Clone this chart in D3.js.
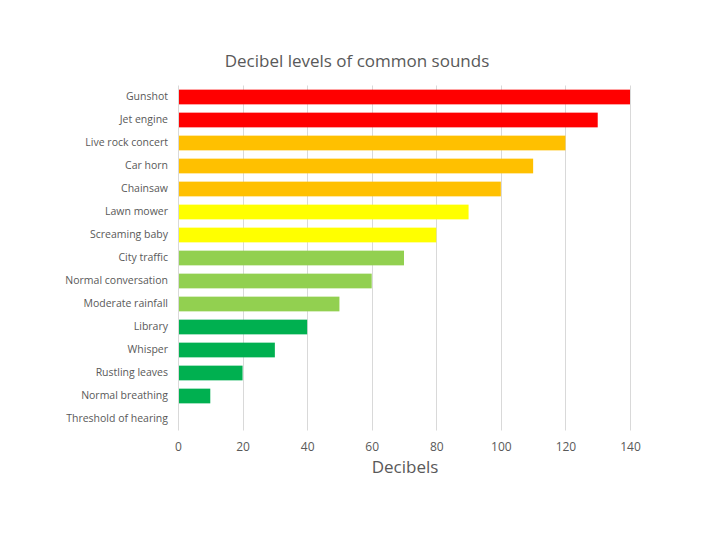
<!DOCTYPE html>
<html lang="en">
<head>
    <meta charset="utf-8">
    <title>Decibel levels</title>
    <script type="text/javascript" src="https://d3js.org/d3.v7.min.js"></script>
    <style>
      body { margin: 0; background: #fff; }
      text { font-family: "Open Sans", "Liberation Sans", sans-serif; fill: #595959; }
    </style>
</head>
<body>
    <div id="viz"></div>

    <script type="text/javascript">
        const sounds = ["Gunshot", "Jet engine", "Live rock concert", "Car horn", "Chainsaw",
                        "Lawn mower", "Screaming baby", "City traffic", "Normal conversation",
                        "Moderate rainfall", "Library", "Whisper", "Rustling leaves",
                        "Normal breathing", "Threshold of hearing"];
        const decibels = [140, 130, 120, 110, 100, 90, 80, 70, 60, 50, 40, 30, 20, 10, 0];
        const barColors = ["#ff0000", "#ff0000", "#ffc000", "#ffc000", "#ffc000",
                           "#ffff00", "#ffff00", "#92d050", "#92d050", "#92d050",
                           "#00b050", "#00b050", "#00b050", "#00b050", "#00b050"];
        const xTicks = [0, 20, 40, 60, 80, 100, 120, 140];

        const width = 720;
        const height = 540;
        const plot = {left: 178, right: 630, top: 85.5, bottom: 430.5};

        const data = sounds.map((s, i) => ({name: s, value: decibels[i], color: barColors[i]}));

        const svg = d3.select("#viz")
                  .append("svg")
                  .attr("width", width)
                  .attr("height", height);

        const xScale = d3.scaleLinear()
            .domain([0, 140])
            .range([plot.left, plot.right]);

        const yScale = d3.scaleBand()
            .domain(sounds)
            .range([plot.top, plot.bottom])
            .paddingInner(0.36)
            .paddingOuter(0.18);

        // gridlines
        svg.append("g")
            .selectAll("line")
            .data(xTicks.slice(1))
            .enter()
            .append("line")
                .attr("x1", d => Math.round(xScale(d)) + 0.5)
                .attr("x2", d => Math.round(xScale(d)) + 0.5)
                .attr("y1", plot.top)
                .attr("y2", plot.bottom)
                .attr("stroke", "#d9d9d9")
                .attr("stroke-width", 1);

        // bars
        svg.append("g")
            .selectAll("rect")
            .data(data)
            .enter()
            .append("rect")
                .attr("x", xScale(0))
                .attr("y", d => yScale(d.name))
                .attr("width", d => xScale(d.value) - xScale(0))
                .attr("height", yScale.bandwidth())
                .attr("fill", d => d.color);

        // y axis line
        svg.append("line")
            .attr("x1", Math.round(xScale(0)) + 0.5)
            .attr("x2", Math.round(xScale(0)) + 0.5)
            .attr("y1", plot.top)
            .attr("y2", plot.bottom)
            .attr("stroke", "#d9d9d9");

        // category labels
        const yAxis = d3.axisLeft(yScale).tickSize(0).tickPadding(10);
        const gy = svg.append("g")
            .attr("transform", `translate(${xScale(0)},0)`)
            .call(yAxis);
        gy.select(".domain").remove();
        gy.selectAll("text")
            .style("font-size", "10.5px")
            .attr("fill", "#404040");

        // x tick labels
        const xAxis = d3.axisBottom(xScale).tickValues(xTicks).tickSize(0).tickPadding(12);
        const gx = svg.append("g")
            .attr("transform", `translate(0,${plot.bottom})`)
            .call(xAxis);
        gx.select(".domain").remove();
        gx.selectAll("text")
            .style("font-size", "12px")
            .attr("fill", "#595959");

        // title
        svg.append("text")
            .attr("x", 357)
            .attr("y", 67)
            .attr("text-anchor", "middle")
            .style("font-size", "17px")
            .text("Decibel levels of common sounds");

        // axis title
        svg.append("text")
            .attr("x", 405)
            .attr("y", 473)
            .attr("text-anchor", "middle")
            .style("font-size", "17px")
            .text("Decibels");
    </script>
</body>
</html>
